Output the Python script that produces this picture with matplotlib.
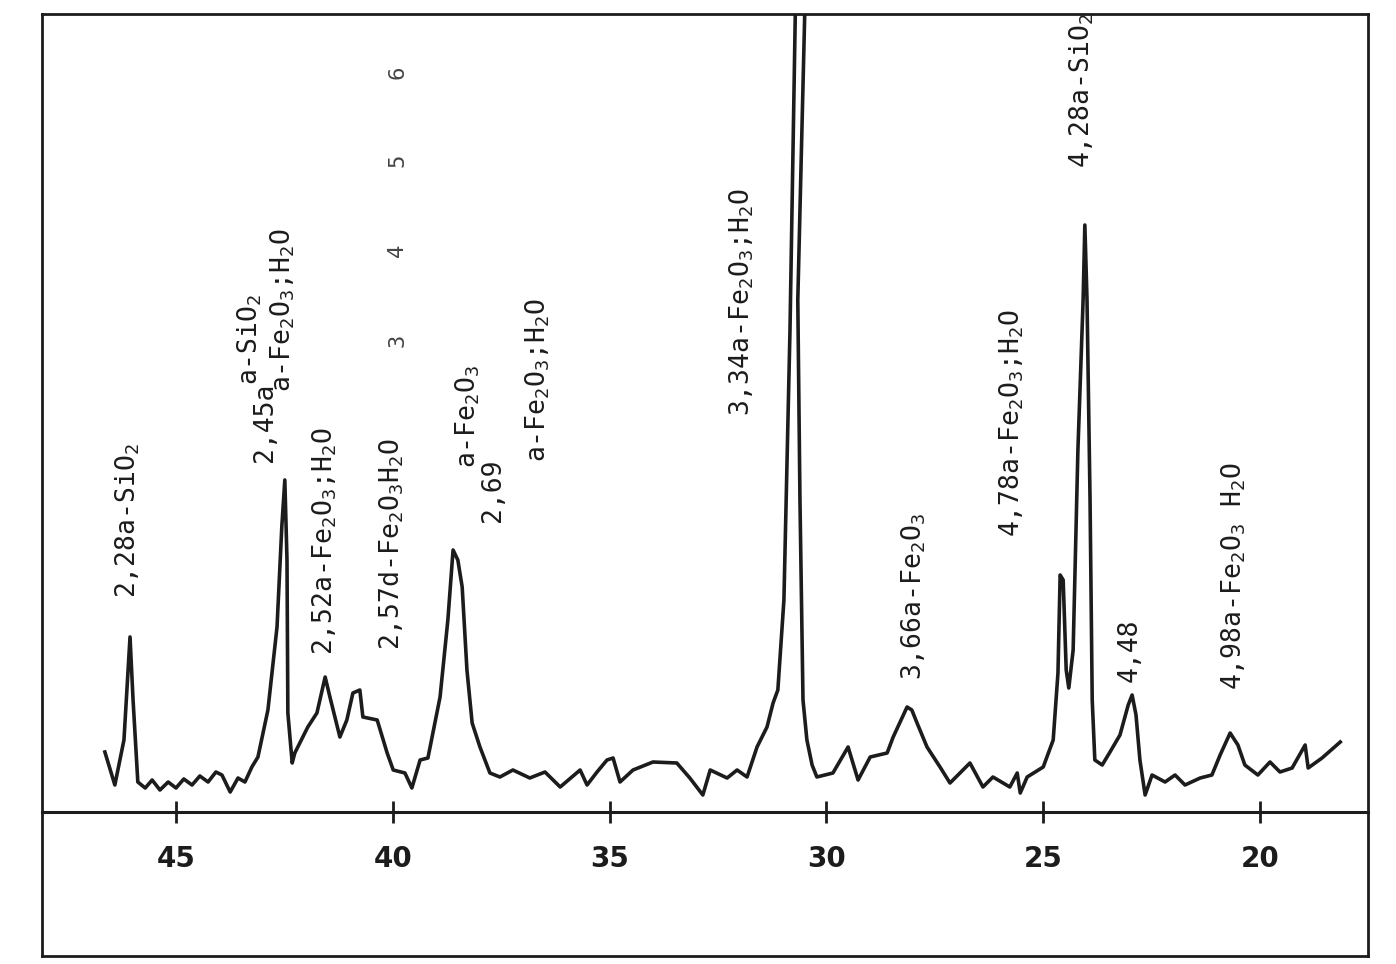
import matplotlib.pyplot as plt

plt.rcParams["mathtext.fontset"] = "custom"
plt.rcParams["mathtext.rm"] = "DejaVu Sans Mono"
plt.rcParams["mathtext.it"] = "DejaVu Sans Mono"

# diffractogram trace: 2theta (deg) and intensity (arb. units)
two_theta = [
    46.64, 46.41, 46.20, 46.06, 45.99, 45.88, 45.71, 45.55, 45.37, 45.18,
    45.00, 44.82, 44.63, 44.45, 44.26, 44.08, 43.94, 43.75, 43.57, 43.41,
    43.25, 43.11, 42.88, 42.67, 42.56, 42.49, 42.44, 42.42, 42.32, 42.26,
    41.96, 41.75, 41.56, 41.45, 41.22, 41.06, 40.92, 40.76, 40.69, 40.36,
    40.13, 39.99, 39.72, 39.56, 39.37, 39.19, 38.91, 38.73, 38.61, 38.50,
    38.40, 38.29, 38.17, 37.99, 37.76, 37.53, 37.23, 36.84, 36.49, 36.14,
    35.68, 35.52, 35.29, 35.06, 34.92, 34.76, 34.46, 34.00, 33.45, 33.15,
    32.85, 32.68, 32.29, 32.06, 31.83, 31.60, 31.37, 31.23, 31.12, 30.98,
    30.84, 30.72, 30.68, 30.52, 30.50, 30.66, 30.61, 30.54, 30.45, 30.33,
    30.22, 29.85, 29.50, 29.27, 28.99, 28.60, 28.46, 28.14, 28.03, 27.91,
    27.68, 27.38, 27.15, 26.69, 26.39, 26.16, 25.77, 25.60, 25.53, 25.37,
    25.00, 24.77, 24.66, 24.61, 24.54, 24.47, 24.41, 24.31, 24.20, 24.08,
    24.04, 23.99, 23.92, 23.87, 23.81, 23.64, 23.46, 23.23, 23.04, 22.95,
    22.86, 22.77, 22.65, 22.49, 22.19, 21.96, 21.73, 21.38, 21.11, 20.92,
    20.69, 20.51, 20.35, 20.05, 19.77, 19.54, 19.26, 18.96, 18.89, 18.57,
    18.15,
]
intensity = [
    58, 25, 70, 173, 110, 28, 22, 30, 20, 28,
    22, 31, 25, 34, 28, 38, 35, 18, 32, 28,
    43, 53, 100, 183, 283, 330, 250, 97, 47, 57,
    83, 97, 133, 113, 73, 90, 117, 120, 93, 90,
    57, 40, 37, 22, 50, 52, 113, 190, 260, 250,
    223, 140, 87, 63, 37, 33, 40, 32, 38, 23,
    40, 25, 38, 50, 52, 28, 40, 48, 47, 32,
    15, 40, 32, 40, 33, 63, 83, 107, 120, 210,
    480, 796, 870, 870, 796, 510, 310, 110, 70, 45,
    33, 37, 63, 30, 53, 57, 73, 103, 100, 87,
    63, 43, 27, 47, 23, 33, 23, 37, 17, 33,
    43, 70, 137, 235, 230, 140, 122, 160, 360, 510,
    585, 510, 310, 110, 50, 45, 58, 75, 105, 115,
    95, 50, 15, 35, 28, 35, 25, 32, 35, 55,
    77, 65, 45, 35, 48, 38, 42, 65, 42, 52,
    68,
]

tick_values = [45, 40, 35, 30, 25, 20]

# peak labels: text, 2theta, intensity where the text starts, offset column
labels = [
    ("2,28a-SiO$_2$", 46.11, 212),
    ("2,45a", 42.95, 348),
    ("a-SiO$_2$", 43.29, 425),
    ("a-Fe$_2$O$_3$;H$_2$O", 42.53, 418),
    ("2,52a-Fe$_2$O$_3$;H$_2$O", 41.56, 155),
    ("2,57d-Fe$_2$O$_3$H$_2$O", 40.02, 160),
    ("2,69", 37.69, 288),
    ("a-Fe$_2$O$_3$", 38.27, 342),
    ("a-Fe$_2$O$_3$;H$_2$O", 36.65, 348),
    ("3,34a-Fe$_2$O$_3$;H$_2$O", 31.95, 394),
    ("3,66a-Fe$_2$O$_3$", 27.98, 130),
    ("4,78a-Fe$_2$O$_3$;H$_2$O", 25.72, 273),
    ("4,28a-SiO$_2$", 24.11, 642),
    ("4,48", 23.00, 128),
    ("4,98a-Fe$_2$O$_3$ H$_2$O", 20.60, 120),
]

# printed chart-paper scale numbers
scale_marks = ["3", "4", "5", "6"]
scale_theta = 39.90
scale_levels = [470, 560, 650, 738]

ink = "#1c1c1c"

fig = plt.figure(figsize=(13.96, 9.64), dpi=100)
ax = fig.add_axes([42 / 1396, 8 / 964, 1326 / 1396, 942 / 964])
ax.set_xlim(48.09, 17.51)
ax.set_ylim(-146, 796)
ax.tick_params(bottom=False, labelbottom=False, left=False, labelleft=False)
for sp in ax.spines.values():
    sp.set_linewidth(2.0)
    sp.set_color(ink)

ax.plot(two_theta, intensity, color=ink, lw=2.6, solid_joinstyle="round")

secax = ax.secondary_xaxis(0.1529)
secax.set_xticks(tick_values)
secax.spines["bottom"].set_linewidth(2.2)
secax.spines["bottom"].set_color(ink)
secax.tick_params(direction="inout", length=16, width=2, pad=16, colors=ink)
for lab in secax.get_xticklabels():
    lab.set_fontsize(20)
    lab.set_fontweight("bold")

for text, x, y in labels:
    ax.text(x, y, text, rotation=90, ha="center", va="bottom", fontsize=19,
            family="DejaVu Sans Mono", color=ink)

for mark, lvl in zip(scale_marks, scale_levels):
    ax.text(scale_theta, lvl, mark, rotation=90, ha="center", va="center",
            fontsize=16, family="DejaVu Sans Mono", color="#444444")

fig.savefig("out.png", dpi=100)
